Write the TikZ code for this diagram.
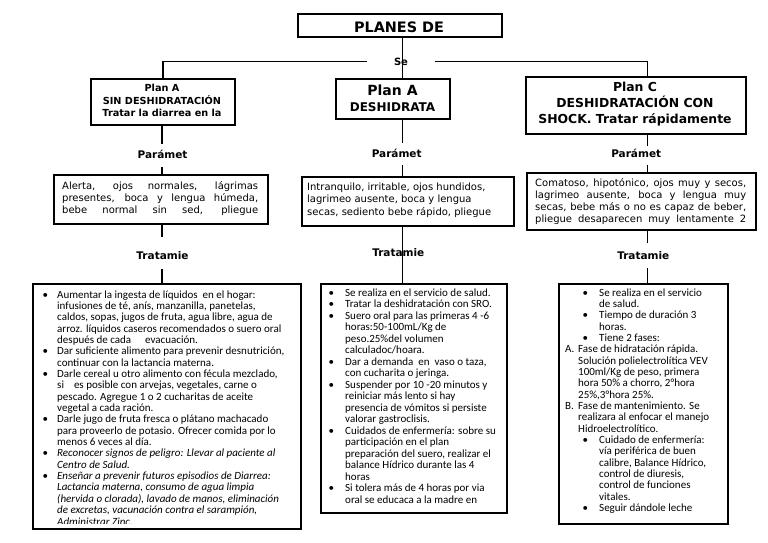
\documentclass[tikz,border=0pt]{standalone}
\usepackage{fontspec}
\setmainfont{DejaVu Sans}
\newfontfamily\carlito{Carlito}
\usepackage{array}
\tikzset{
  box/.style={draw=black, line width=1.6pt, fill=white, inner sep=0pt, anchor=north west},
  bigbox/.style={box, line width=2pt},
  conn/.style={draw=black, line width=1.5pt},
  txt/.style={inner sep=0pt, anchor=base west},
  ctxt/.style={inner sep=0pt, anchor=base},
  toplbl/.style={ctxt, font=\bfseries\fontsize{10.5}{12}\selectfont, text height=9pt, text depth=0pt},
  parfont/.style={font=\fontsize{10}{12.4}\selectfont},
  listfont/.style={font=\carlito\fontsize{11}{11.35}\selectfont},
}
\newcommand{\jline}[2]{\makebox[#1][s]{#2}}
\newcommand{\bul}{\textbullet}
\newcommand{\rbul}{\hspace*{4.4pt}\textbullet}
\newcommand{\mc}[1]{\multicolumn{2}{@{}l@{}}{#1}}
\begin{document}
\begin{tikzpicture}[x=1pt,y=-1pt]
\useasboundingbox[fill=white] (0,0) rectangle (768,543);
\coordinate (colL) at (162,0);
\coordinate (colM) at (402.5,0);
\coordinate (colR) at (647.5,0);

% ---------- top level ----------
\node[box, minimum width=204pt, minimum height=23pt] (planes) at (297,13) {};
\node[ctxt, font=\bfseries\fontsize{14.4}{16}\selectfont] (planesT) at (399,32.2) {PLANES DE};

\node[box, minimum width=144pt, minimum height=46pt] (lefttop) at (90,78) {};
\node[ctxt, font=\bfseries\fontsize{9.7}{12}\selectfont] (lefttopT) at (162,91.5)
  {\begin{tabular}[t]{@{}c@{}}Plan A\\SIN DESHIDRATACIÓN\\Tratar la diarrea en la\end{tabular}};

\node[box, minimum width=114pt, minimum height=40pt] (midtop) at (335,78) {};
\node[ctxt, font=\bfseries\fontsize{14}{16}\selectfont] (midtopA) at (392.5,95) {Plan A};
\node[ctxt, font=\bfseries\fontsize{12}{14}\selectfont] (midtopB) at (392.5,111.4) {DESHIDRATA};

\node[box, minimum width=220pt, minimum height=57pt] (righttop) at (525,76) {};
\node[ctxt, font=\bfseries\fontsize{12.4}{15.5}\selectfont] (righttopT) at (635,91.5)
  {\begin{tabular}[t]{@{}c@{}}Plan C\\DESHIDRATACIÓN CON\\SHOCK. Tratar rápidamente\end{tabular}};

\draw[conn] (planes.south -| colM) -- (midtop.north -| colM);
\node[ctxt, font=\bfseries\fontsize{10}{12}\selectfont, minimum width=67pt, text height=8pt, text depth=0pt] (se) at (401,65.6) {Se};
\draw[conn] (se.west) -| (lefttop.north);
\draw[conn] (se.east) -| (righttop.north -| colR);

% ---------- labels ----------
\node[toplbl] (lpar) at (162.5,158.5) {Parámet};
\node[toplbl] (mpar) at (396.7,157.5) {Parámet};
\node[toplbl] (rpar) at (636.2,157.5) {Parámet};
\node[toplbl] (ltrat) at (162.5,259) {Tratamie};
\node[toplbl] (rtrat) at (643.3,259.3) {Tratamie};

% ---------- parameter boxes ----------
\node[box, minimum width=214pt, minimum height=49pt] (lparbox) at (53,174) {};
\node[txt, parfont] (lparT) at (62,189)
  {\begin{tabular}[t]{@{}l@{}}\jline{196pt}{Alerta, ojos normales, lágrimas}\\
   \jline{196pt}{presentes, boca y lengua húmeda,}\\
   \jline{196pt}{bebe normal sin sed, pliegue}\end{tabular}};

\node[box, minimum width=212pt, minimum height=49pt] (mparbox) at (301,176) {};
\node[txt, parfont] (mparT) at (307,190.2)
  {\begin{tabular}[t]{@{}l@{}}Intranquilo, irritable, ojos hundidos,\\
   lagrimeo ausente, boca y lengua\\
   secas, sediento bebe rápido, pliegue\end{tabular}};

\node[box, minimum width=229pt, minimum height=57pt] (rparbox) at (526,172) {};
\node[txt, font=\fontsize{10}{12}\selectfont] (rparT) at (535,186.5)
  {\begin{tabular}[t]{@{}l@{}}\jline{211pt}{Comatoso, hipotónico, ojos muy y secos,}\\
   \jline{211pt}{lagrimeo ausente, boca y lengua muy}\\
   \jline{211pt}{secas, bebe más o no es capaz de beber,}\\
   \jline{211pt}{pliegue desaparecen muy lentamente 2}\end{tabular}};

% ---------- treatment boxes ----------
\node[bigbox, minimum width=268pt, minimum height=245pt] (lbot) at (32,283) {};
\node[bigbox, minimum width=186pt, minimum height=229pt] (mbot) at (320,283) {};
\node[bigbox, minimum width=169pt, minimum height=240pt] (rbot) at (558,283) {};

% ---------- connectors ----------
\draw[conn, shorten >=5.5pt] (lefttop.south -| colL) -- (lpar.north -| colL);
\draw[conn, shorten <=8.5pt] (lpar.south -| colL) -- (lparbox.north -| colL);
\draw[conn, shorten >=13.3pt] (lparbox.south -| colL) -- (ltrat.north -| colL);
\draw[conn, shorten <=9.3pt] (ltrat.south -| colL) -- (lbot.north -| colL);

\draw[conn, shorten >=5.5pt] (midtop.south -| colM) -- (mpar.north -| colM);
\draw[conn, shorten <=7.5pt] (mpar.south -| colM) -- (mparbox.north -| colM);
\draw[conn] (mparbox.south -| colM) -- (mbot.north -| colM);
\node[toplbl] (mtrat) at (398.3,256) {Tratamie};

\draw[conn, shorten >=2.5pt] (righttop.south -| colR) -- (rpar.north -| colR);
\draw[conn, shorten <=7.5pt] (rpar.south -| colR) -- (rparbox.north -| colR);
\draw[conn, shorten >=7.3pt] (rparbox.south -| colR) -- (rtrat.north -| colR);
\draw[conn, shorten <=8.7pt] (rtrat.south -| colR) -- (rbot.north -| colR);

% ---------- treatment texts ----------
\begin{scope}
\clip (lbot.north west) rectangle ([yshift=7pt]lbot.south east);
\node[txt, listfont] (lbotT) at (42.5,298)
 {\begin{tabular}[t]{@{}p{14.5pt}@{}l@{}}
 \bul & Aumentar la ingesta de líquidos\ \ en el hogar:\\
 & infusiones de té, anís, manzanilla, panetelas,\\
 & caldos, sopas, jugos de fruta, agua libre, agua de\\
 & arroz. líquidos caseros recomendados o suero oral\\
 & después de cada\hspace{14pt}evacuación.\\
 \bul & Dar suficiente alimento para prevenir desnutrición,\\
 & continuar con la lactancia materna.\\
 \bul & Darle cereal u otro alimento con fécula mezclado,\\
 & si\hspace{10pt}es posible con arvejas, vegetales, carne o\\
 & pescado. Agregue 1 o 2 cucharitas de aceite\\
 & vegetal a cada ración.\\
 \bul & Darle jugo de fruta fresca o plátano machacado\\
 & para proveerlo de potasio. Ofrecer comida por lo\\
 & menos 6 veces al día.\\
 \bul & \itshape Reconocer signos de peligro: Llevar al paciente al\\
 & \itshape Centro de Salud.\\
 \bul & \itshape Enseñar a prevenir futuros episodios de Diarrea:\\
 & \itshape Lactancia materna, consumo de agua limpia\\
 & \itshape (hervida o clorada), lavado de manos, eliminación\\
 & \itshape de excretas, vacunación contra el sarampión,\\
 & \itshape Administrar Zinc.
 \end{tabular}};
\end{scope}

\node[txt, font=\carlito\fontsize{11}{11.5}\selectfont] (mbotT) at (328.5,296)
 {\begin{tabular}[t]{@{}p{16.5pt}@{}l@{}}
 \bul & Se realiza en el servicio de salud.\\
 \bul & Tratar la deshidratación con SRO.\\
 \bul & Suero oral para las primeras 4 -6\\
 & horas:50-100mL/Kg de\\
 & peso.25\%del volumen\\
 & calculadoc/hoara.\\
 \bul & Dar a demanda\ \ en\ \ vaso o taza,\\
 & con cucharita o jeringa.\\
 \bul & Suspender por 10 -20 minutos y\\
 & reiniciar más lento si hay\\
 & presencia de vómitos si persiste\\
 & valorar gastroclisis.\\
 \bul & Cuidados de enfermería: sobre su\\
 & participación en el plan\\
 & preparación del suero, realizar el\\
 & balance Hídrico durante las 4\\
 & horas\\
 \bul & Si tolera más de 4 horas por via\\
 & oral se educaca a la madre en
 \end{tabular}};

\node[txt, listfont] (rbotT) at (565,296)
 {\begin{tabular}[t]{@{}p{13pt}@{}p{21pt}@{}l@{}}
 & \rbul & Se realiza en el servicio\\
 & & de salud.\\
 & \rbul & Tiempo de duración 3\\
 & & horas.\\
 & \rbul & Tiene 2 fases:\\
 A. & \mc{Fase de hidratación rápida.}\\
 & \mc{Solución polielectrolítica VEV}\\
 & \mc{100ml/Kg de peso, primera}\\
 & \mc{hora 50\% a chorro, 2°hora}\\
 & \mc{25\%,3°hora 25\%.}\\
 B. & \mc{Fase de mantenimiento. Se}\\
 & \mc{realizara al enfocar el manejo}\\
 & \mc{Hidroelectrolítico.}\\
 & \rbul & Cuidado de enfermería:\\
 & & vía periférica de buen\\
 & & calibre, Balance Hídrico,\\
 & & control de diuresis,\\
 & & control de funciones\\
 & & vitales.\\
 & \rbul & Seguir dándole leche
 \end{tabular}};
\end{tikzpicture}
\end{document}
